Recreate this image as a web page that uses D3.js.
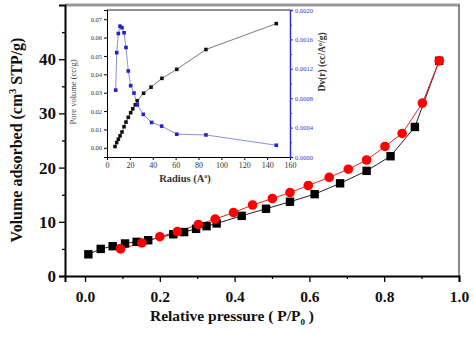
<!DOCTYPE html>
<html>
<head>
<meta charset="utf-8">
<script src="https://cdn.jsdelivr.net/npm/d3@7"></script>
<style>
  body { margin: 0; background: #fff; }
  svg { display: block; font-family: "Liberation Serif", "DejaVu Serif", serif; }
</style>
</head>
<body>
<svg id="chart" width="474" height="351"></svg>
<script>
'use strict';

// main isotherm (P/P0 vs volume adsorbed)
var adsP = [0.009, 0.042, 0.074, 0.107, 0.138, 0.169, 0.236, 0.265, 0.297, 0.325, 0.352,
            0.419, 0.484, 0.548, 0.614, 0.682, 0.753, 0.817, 0.882, 0.947];
var adsV = [4.0, 5.0, 5.5, 6.0, 6.3, 6.6, 7.7, 8.1, 8.7, 9.2, 9.7,
            11.1, 12.4, 13.7, 15.1, 17.1, 19.4, 22.1, 27.5, 39.7];
var desP = [0.095, 0.152, 0.200, 0.247, 0.303, 0.348, 0.397, 0.448, 0.501, 0.548,
            0.597, 0.653, 0.704, 0.753, 0.802, 0.848, 0.902, 0.947];
var desV = [5.0, 6.1, 7.25, 8.2, 9.5, 10.5, 11.7, 13.1, 14.3, 15.4,
            16.7, 18.2, 19.7, 21.4, 23.9, 26.3, 31.9, 39.7];

// inset: pore size distribution
var poreR = [7, 8.5, 9.9, 11.4, 13.1, 14.9, 16.6, 18.6, 20.7, 22.5, 24.7, 26.5,
             32, 38.5, 48, 61, 86.5, 148];
var poreVol = [0.0007, 0.0029, 0.0047, 0.0065, 0.0086, 0.0115, 0.014, 0.0166, 0.0191, 0.0212,
               0.0234, 0.0256, 0.0297, 0.033, 0.0378, 0.0427, 0.0535, 0.0676];
var dvR = [7.6, 8.5, 9.9, 11.4, 13.1, 14.9, 16.6, 18.6, 20.7, 23.6, 26.5,
           31.7, 39, 47.8, 61, 86.5, 148];
var dvVal = [0.00091, 0.00142, 0.00168, 0.00178, 0.00176, 0.00169, 0.00149, 0.00117, 0.00097, 0.00087, 0.00071,
             0.00058, 0.00047, 0.00042, 0.00031, 0.0003, 0.00016];

var xTicks = [0, 0.2, 0.4, 0.6, 0.8, 1.0];
var yTicks = [0, 10, 20, 30, 40];
var rTicks = [0, 20, 40, 60, 80, 100, 120, 140, 160];
var volTicks = [0, 0.01, 0.02, 0.03, 0.04, 0.05, 0.06, 0.07];
var dvTicks = [0, 0.0004, 0.0008, 0.0012, 0.0016, 0.002];

var svg = d3.select("#chart");

var x = d3.scaleLinear().domain([-0.0535, 1.0]).range([65, 459]),
    y = d3.scaleLinear().domain([0, 50]).range([276, 5]);

// frame: top and right lines are grey
svg.append("line").attr("x1", 65).attr("x2", 460).attr("y1", 5).attr("y2", 5)
    .style("stroke", "#999").style("stroke-width", 3);
svg.append("line").attr("x1", 459).attr("x2", 459).attr("y1", 5).attr("y2", 276)
    .style("stroke", "#666").style("stroke-width", 1.5);

// minor ticks
var xMinor = d3.axisBottom(x).tickValues([0.1, 0.3, 0.5, 0.7, 0.9]).tickSize(3).tickFormat("");
var yMinor = d3.axisLeft(y).tickValues([5, 15, 25, 35, 45]).tickSize(3).tickFormat("");
svg.append("g").attr("transform", "translate(0,276)").call(xMinor);
svg.append("g").attr("transform", "translate(65,0)").call(yMinor);

var xAxis = d3.axisBottom(x).tickValues(xTicks).tickSize(6).tickPadding(9)
    .tickFormat(d3.format(".1f"));
var yAxis = d3.axisLeft(y).tickValues(yTicks).tickSize(6).tickPadding(3)
    .tickFormat(d3.format("d"));
var gx = svg.append("g").attr("transform", "translate(0,276)").call(xAxis);
var gy = svg.append("g").attr("transform", "translate(65,0)").call(yAxis);
[gx, gy].forEach(function(g){
    g.select(".domain").style("stroke-width", 2);
    g.selectAll("text").style("font-family", "Liberation Serif").style("font-weight", "bold")
        .style("fill", "#111");
});
gx.selectAll("text").style("font-size", "15.5px");
gy.selectAll("text").style("font-size", "17px");
svg.selectAll(".tick line").style("stroke-width", 1.3);

// axis titles
var xt = svg.append("text").attr("x", 232).attr("y", 321).attr("text-anchor", "middle")
    .style("font-weight", "bold").style("font-size", "15.5px").style("fill", "#111");
xt.append("tspan").text("Relative pressure ( P/P");
xt.append("tspan").attr("dy", 4).style("font-size", "9px").text("0");
xt.append("tspan").attr("dy", -4).text(" )");

var yt = svg.append("text").attr("transform", "translate(22,140) rotate(-90)")
    .attr("text-anchor", "middle")
    .style("font-weight", "bold").style("font-size", "16px").style("fill", "#111");
yt.append("tspan").text("Volume adsorbed (cm");
yt.append("tspan").attr("dy", -6).style("font-size", "10px").text("3");
yt.append("tspan").attr("dy", 6).text(" STP/g)");

// isotherm lines and markers
var line = d3.line().x(function(d){ return x(d[0]); }).y(function(d){ return y(d[1]); });
var ads = d3.zip(adsP, adsV), des = d3.zip(desP, desV);

svg.append("path").attr("d", line(ads)).style("fill", "none")
    .style("stroke", "#222").style("stroke-width", 1);
svg.append("path").attr("d", line(des)).style("fill", "none")
    .style("stroke", "#e22").style("stroke-width", 1);

svg.append("g").selectAll("rect").data(ads).enter().append("rect")
    .attr("x", function(d){ return x(d[0]) - 4.2; })
    .attr("y", function(d){ return y(d[1]) - 4.2; })
    .attr("width", 8.4).attr("height", 8.4)
    .style("fill", "#000");
svg.append("g").selectAll("circle").data(des).enter().append("circle")
    .attr("cx", function(d){ return x(d[0]); })
    .attr("cy", function(d){ return y(d[1]); })
    .attr("r", 4.8)
    .style("fill", "#f00");

// ---- inset ----
var ix = d3.scaleLinear().domain([0, 160]).range([107, 290]),
    iy = d3.scaleLinear().domain([-0.005, 0.075]).range([157, 10]),
    iy2 = d3.scaleLinear().domain([0, 0.002]).range([157, 10]);

var inset = svg.append("g");
inset.append("line").attr("x1", 107).attr("x2", 290).attr("y1", 10).attr("y2", 10)
    .style("stroke", "#222").style("stroke-width", 1);

var ixAxis = d3.axisBottom(ix).tickValues(rTicks).tickSize(3).tickPadding(2).tickFormat(d3.format("d"));
var iyAxis = d3.axisLeft(iy).tickValues(volTicks).tickSize(3).tickPadding(2).tickFormat(d3.format(".2f"));
var iy2Axis = d3.axisRight(iy2).tickValues(dvTicks).tickSize(3).tickPadding(2).tickFormat(d3.format(".4f"));
var iy2Minor = d3.axisRight(iy2).tickValues([0.0002, 0.0006, 0.001, 0.0014, 0.0018]).tickSize(2).tickFormat("");

var gix = inset.append("g").attr("transform", "translate(0,157)").call(ixAxis);
var giy = inset.append("g").attr("transform", "translate(107,0)").call(iyAxis);
inset.append("g").attr("transform", "translate(290,0)").call(iy2Minor)
    .selectAll("line,path").style("stroke", "#33c");
var giy2 = inset.append("g").attr("transform", "translate(290,0)").call(iy2Axis);

[gix, giy, giy2].forEach(function(g){
    g.selectAll("text").style("font-family", "Liberation Serif").style("font-size", "6.5px")
        .style("fill", "#333");
});
gix.selectAll("text").style("font-size", "8px");
giy2.selectAll("line,.domain").style("stroke", "#33c");
giy2.select(".domain").style("stroke-width", 1.5);
giy2.selectAll("text").style("fill", "#33c");

var irt = inset.append("text").attr("x", 185).attr("y", 182).attr("text-anchor", "middle")
    .style("font-weight", "bold").style("font-size", "10.5px").style("fill", "#333");
irt.append("tspan").text("Radius (A");
irt.append("tspan").attr("dy", -4).style("font-size", "6px").text("o");
irt.append("tspan").attr("dy", 4).text(")");

inset.append("text").attr("transform", "translate(76,92) rotate(-90)")
    .attr("text-anchor", "middle").style("font-size", "8.5px").style("fill", "#444")
    .text("Pore volume (cc/g)");

var dvt = inset.append("text").attr("transform", "translate(325,62) rotate(-90)")
    .attr("text-anchor", "middle").style("font-weight", "bold").style("font-size", "9.5px")
    .style("fill", "#333");
dvt.append("tspan").text("Dv(r) (cc/A");
dvt.append("tspan").attr("dy", -3).style("font-size", "6px").text("o");
dvt.append("tspan").attr("dy", 3).text("/g)");

var volPts = d3.zip(poreR, poreVol), dvPts = d3.zip(dvR, dvVal);
var volLine = d3.line().x(function(d){ return ix(d[0]); }).y(function(d){ return iy(d[1]); });
var dvLine = d3.line().x(function(d){ return ix(d[0]); }).y(function(d){ return iy2(d[1]); });

inset.append("path").attr("d", volLine(volPts)).style("fill", "none")
    .style("stroke", "#555").style("stroke-width", 0.8);
inset.append("path").attr("d", dvLine(dvPts)).style("fill", "none")
    .style("stroke", "#6f74c8").style("stroke-width", 0.8);

inset.append("g").selectAll("rect").data(volPts).enter().append("rect")
    .attr("x", function(d){ return ix(d[0]) - 1.8; })
    .attr("y", function(d){ return iy(d[1]) - 1.8; })
    .attr("width", 3.6).attr("height", 3.6).style("fill", "#111");
inset.append("g").selectAll("rect").data(dvPts).enter().append("rect")
    .attr("x", function(d){ return ix(d[0]) - 1.8; })
    .attr("y", function(d){ return iy2(d[1]) - 1.8; })
    .attr("width", 3.6).attr("height", 3.6).style("fill", "#2222cc");
</script>
</body>
</html>
